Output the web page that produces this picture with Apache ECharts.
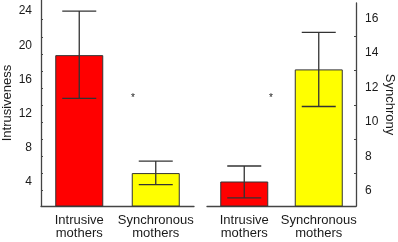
<!DOCTYPE html>
<html>
<head>
<meta charset="utf-8">
<script src="https://cdn.jsdelivr.net/npm/echarts@6/dist/echarts.min.js"></script>
<style>
    html, body { margin: 0; padding: 0; background: #fff; }
    #chart { width: 398px; height: 242px; }
</style>
</head>
<body>
<div id="chart"></div>
<script>
// categories shared by both panels
const categories = ['Intrusive\nmothers', 'Synchronous\nmothers']
// left panel: intrusiveness
const intrusiveness = [18.85, 5.05]
const intrusivenessLow = [13.8, 3.7]
const intrusivenessHigh = [24.0, 6.45]
const intrusivenessTicks = [4, 8, 12, 16, 20, 24]
const intrusivenessMinor = [3, 5, 7, 9, 11, 13, 15, 17, 19, 21, 23]
// right panel: synchrony
const synchrony = [6.55, 13.05]
const synchronyLow = [5.6, 10.9]
const synchronyHigh = [7.45, 15.2]
const synchronyTicks = [6, 8, 10, 12, 14, 16]
const synchronyMinor = [7, 9, 11, 13, 15]
const barColors = ['#ff0000', '#ffff00']

const font = 'Liberation Sans, Arial, sans-serif'
const axisColor = '#444'
const textColor = '#1a1a1a'

const errorBar = function (params, api) {
    const x = api.value(0)
    const lo = api.coord([x, api.value(1)])
    const hi = api.coord([x, api.value(2)])
    const half = 17
    const style = { stroke: '#333', lineWidth: 1.3 }
    return {
        type: 'group',
        children: [
            { type: 'line', shape: { x1: hi[0], y1: hi[1], x2: lo[0], y2: lo[1] }, style },
            { type: 'line', shape: { x1: hi[0] - half, y1: hi[1], x2: hi[0] + half, y2: hi[1] }, style },
            { type: 'line', shape: { x1: lo[0] - half, y1: lo[1], x2: lo[0] + half, y2: lo[1] }, style }
        ]
    }
}

const xAxisFor = function (gridIndex) {
    return {
        type: 'category',
        gridIndex,
        data: categories,
        axisTick: { show: false },
        axisLine: { lineStyle: { color: axisColor, width: 1.3 } },
        axisLabel: {
            color: textColor,
            fontFamily: font,
            fontSize: 13,
            lineHeight: 13,
            margin: 8,
            interval: 0
        }
    }
}

const yAxisFor = function (gridIndex, position, name, min, max, ticks, minor, rotate, gap) {
    return {
        type: 'value',
        gridIndex,
        position,
        min,
        max,
        name,
        nameLocation: 'middle',
        nameGap: gap,
        nameRotate: rotate,
        nameTextStyle: { color: textColor, fontFamily: font, fontSize: 13 },
        axisLine: { show: true, lineStyle: { color: axisColor, width: 1.3 } },
        axisTick: {
            show: true,
            inside: true,
            length: 2,
            customValues: minor,
            lineStyle: { color: axisColor }
        },
        axisLabel: {
            color: textColor,
            fontFamily: font,
            fontSize: 12,
            margin: 9,
            customValues: ticks
        },
        splitLine: { show: false }
    }
}

const barsFor = function (values, xi, yi) {
    return {
        type: 'bar',
        xAxisIndex: xi,
        yAxisIndex: yi,
        barWidth: 48,
        data: values.map((v, i) => ({
            value: v,
            itemStyle: { color: barColors[i], borderColor: '#333', borderWidth: 1 }
        })),
        z: 2
    }
}

const errorsFor = function (low, high, xi, yi) {
    return {
        type: 'custom',
        xAxisIndex: xi,
        yAxisIndex: yi,
        renderItem: errorBar,
        data: low.map((l, i) => [i, l, high[i]]),
        z: 5
    }
}

const chart = echarts.init(document.getElementById('chart'), null, { renderer: 'canvas' })
chart.setOption({
    animation: false,
    grid: [
        { left: 41, top: 0, width: 153, bottom: 36 },
        { left: 207, top: 3, right: 42, bottom: 36 }
    ],
    xAxis: [xAxisFor(0), xAxisFor(1)],
    yAxis: [
        yAxisFor(0, 'left', 'Intrusiveness', 1.2, 25.3, intrusivenessTicks, intrusivenessMinor, 90, 27),
        yAxisFor(1, 'right', 'Synchrony', 5.13, 16.9, synchronyTicks, synchronyMinor, -90, 27)
    ],
    graphic: [
        { type: 'text', x: 133, y: 98, style: { text: '*', fill: textColor, font: '10px ' + font, align: 'center', verticalAlign: 'middle' } },
        { type: 'text', x: 271, y: 98, style: { text: '*', fill: textColor, font: '10px ' + font, align: 'center', verticalAlign: 'middle' } }
    ],
    series: [
        barsFor(intrusiveness, 0, 0),
        errorsFor(intrusivenessLow, intrusivenessHigh, 0, 0),
        barsFor(synchrony, 1, 1),
        errorsFor(synchronyLow, synchronyHigh, 1, 1)
    ]
})
</script>
</body>
</html>
